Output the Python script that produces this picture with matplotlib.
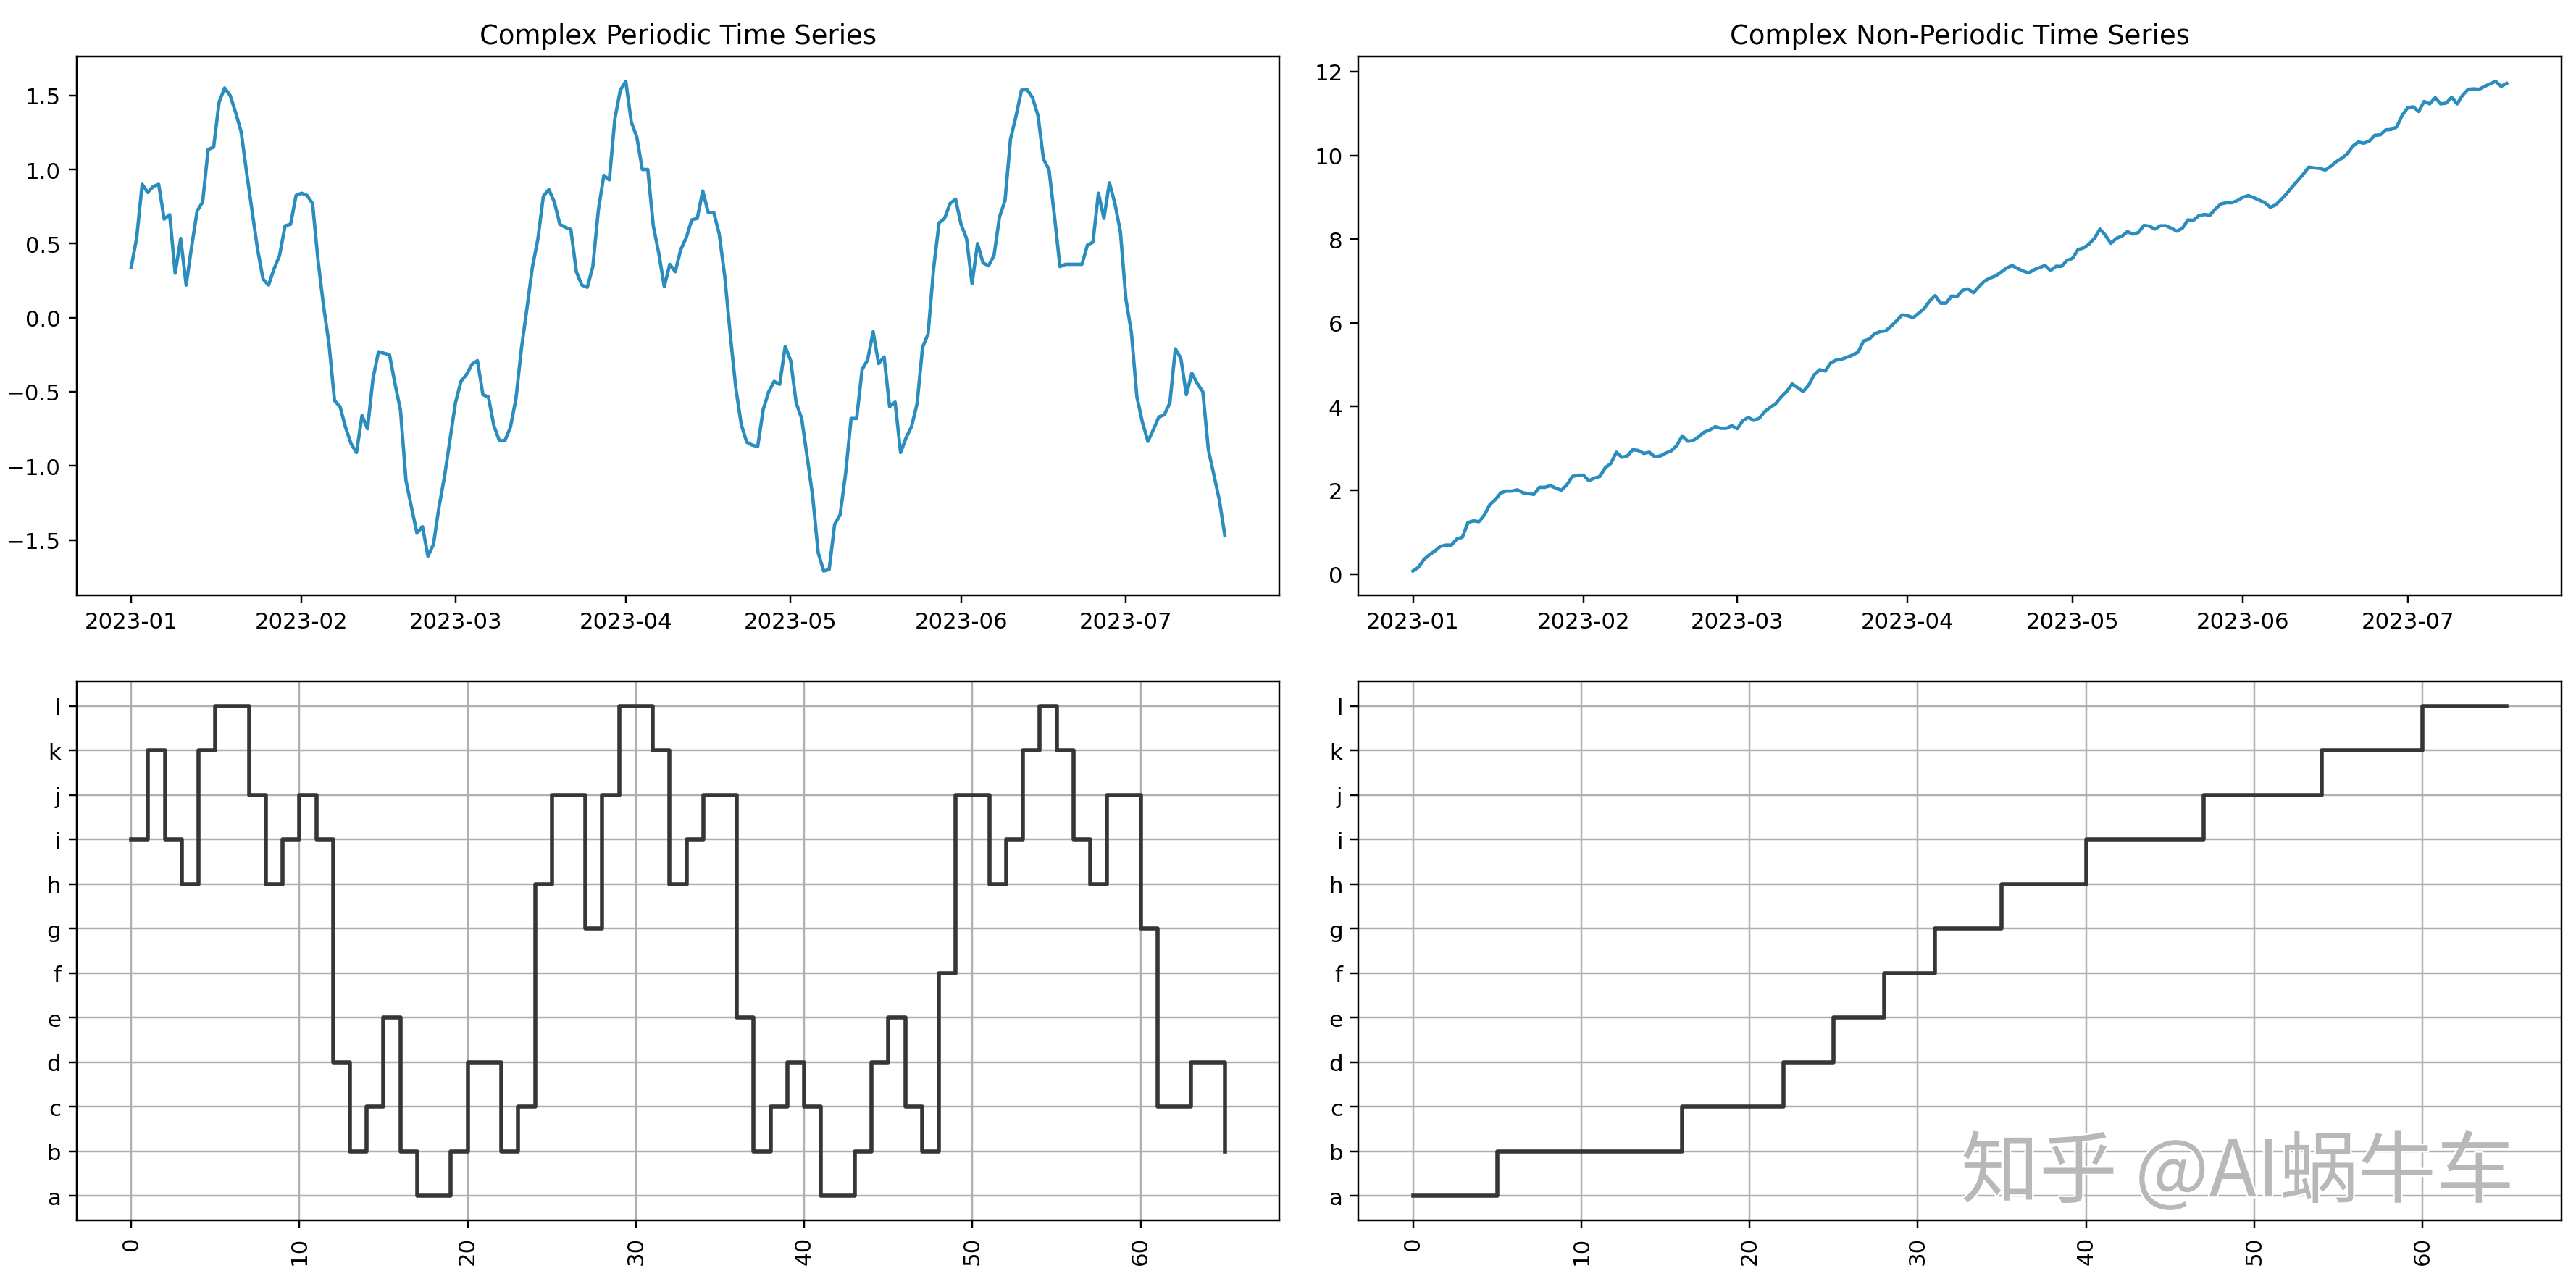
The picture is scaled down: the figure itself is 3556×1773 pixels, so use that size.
import numpy as np
import pandas as pd
import matplotlib
matplotlib.use('Agg')
import matplotlib.pyplot as plt
import matplotlib.patheffects as pe

dates = pd.date_range('2023-01-01', periods=200, freq='D')

periodic = [
    0.34, 0.54, 0.90, 0.845, 0.885, 0.90, 0.665, 0.695, 0.30, 0.535,
    0.22, 0.48, 0.72, 0.78, 1.135, 1.15, 1.455, 1.55, 1.50, 1.385,
    1.255, 0.98, 0.72, 0.46, 0.26, 0.22, 0.33, 0.42, 0.62, 0.63,
    0.825, 0.84, 0.825, 0.77, 0.385, 0.08, -0.18, -0.56, -0.60, -0.74,
    -0.85, -0.91, -0.66, -0.75, -0.41, -0.23, -0.24, -0.25, -0.445, -0.625,
    -1.10, -1.28, -1.455, -1.41, -1.61, -1.53, -1.28, -1.075, -0.825, -0.575,
    -0.43, -0.385, -0.315, -0.29, -0.52, -0.535, -0.73, -0.83, -0.83, -0.74,
    -0.55, -0.21, 0.06, 0.34, 0.53, 0.82, 0.865, 0.78, 0.63, 0.61,
    0.595, 0.31, 0.22, 0.205, 0.345, 0.725, 0.96, 0.93, 1.34, 1.535,
    1.595, 1.32, 1.22, 1.00, 1.00, 0.62, 0.435, 0.21, 0.36, 0.31,
    0.46, 0.54, 0.66, 0.67, 0.855, 0.71, 0.71, 0.565, 0.28, -0.11,
    -0.47, -0.72, -0.84, -0.86, -0.87, -0.62, -0.50, -0.43, -0.45, -0.195,
    -0.29, -0.575, -0.68, -0.94, -1.205, -1.585, -1.71, -1.70, -1.395, -1.33,
    -1.05, -0.68, -0.68, -0.35, -0.285, -0.095, -0.31, -0.265, -0.60, -0.57,
    -0.91, -0.81, -0.735, -0.58, -0.20, -0.11, 0.33, 0.64, 0.67, 0.77,
    0.80, 0.63, 0.535, 0.23, 0.50, 0.37, 0.35, 0.42, 0.68, 0.79,
    1.205, 1.36, 1.535, 1.54, 1.485, 1.365, 1.07, 1.00, 0.685, 0.345,
    0.36, 0.36, 0.36, 0.36, 0.49, 0.51, 0.84, 0.67, 0.91, 0.77,
    0.58, 0.125, -0.10, -0.535, -0.705, -0.835, -0.755, -0.67, -0.655, -0.575,
    -0.21, -0.275, -0.52, -0.375, -0.445, -0.50, -0.89, -1.06, -1.23, -1.47,
]

trend = [
    0.07, 0.16, 0.35, 0.46, 0.55, 0.66, 0.69, 0.69, 0.84, 0.88,
    1.23, 1.27, 1.25, 1.41, 1.66, 1.78, 1.94, 1.98, 1.98, 2.01,
    1.94, 1.92, 1.90, 2.07, 2.07, 2.11, 2.05, 2.00, 2.13, 2.33,
    2.36, 2.36, 2.23, 2.29, 2.33, 2.54, 2.64, 2.91, 2.79, 2.82,
    2.97, 2.95, 2.88, 2.91, 2.80, 2.82, 2.89, 2.94, 3.07, 3.30,
    3.17, 3.19, 3.28, 3.39, 3.44, 3.52, 3.48, 3.48, 3.54, 3.47,
    3.66, 3.74, 3.67, 3.72, 3.88, 3.98, 4.07, 4.23, 4.36, 4.54,
    4.45, 4.36, 4.51, 4.76, 4.88, 4.85, 5.04, 5.11, 5.13, 5.18,
    5.23, 5.30, 5.57, 5.61, 5.74, 5.79, 5.81, 5.92, 6.05, 6.19,
    6.17, 6.12, 6.23, 6.34, 6.52, 6.65, 6.47, 6.47, 6.64, 6.63,
    6.78, 6.81, 6.72, 6.87, 7.00, 7.07, 7.12, 7.21, 7.31, 7.37,
    7.30, 7.24, 7.19, 7.27, 7.32, 7.37, 7.25, 7.35, 7.35, 7.49,
    7.54, 7.75, 7.79, 7.88, 8.02, 8.24, 8.09, 7.90, 8.02, 8.07,
    8.18, 8.12, 8.16, 8.33, 8.31, 8.24, 8.32, 8.32, 8.26, 8.19,
    8.26, 8.46, 8.45, 8.56, 8.59, 8.57, 8.72, 8.84, 8.87, 8.87,
    8.92, 9.00, 9.04, 8.99, 8.93, 8.87, 8.76, 8.82, 8.95, 9.09,
    9.25, 9.40, 9.55, 9.72, 9.70, 9.69, 9.65, 9.74, 9.85, 9.93,
    10.04, 10.22, 10.32, 10.29, 10.34, 10.48, 10.49, 10.61, 10.62, 10.68,
    10.96, 11.14, 11.16, 11.05, 11.29, 11.23, 11.38, 11.23, 11.25, 11.39,
    11.23, 11.44, 11.58, 11.59, 11.58, 11.65, 11.71, 11.77, 11.65, 11.72,
]

alphabet = list('abcdefghijkl')
sym_periodic = list('ikihklljhi' 'jidbcebaab' 'ddbchjjgjl' 'lkhijjebcd'
                    'caabdecbfj' 'jhiklkihjj' 'gccddb')
sym_trend = list('aaaaa' 'bbbbbbbbbbb' 'cccccc' 'ddd' 'eee' 'fff' 'gggg'
                 'hhhhh' 'iiiiiii' 'jjjjjjj' 'kkkkkk' 'llllll')

line_color = '#2b8cbe'

fig, axes = plt.subplots(2, 2, figsize=(16, 7.982), dpi=222.25)
fig.subplots_adjust(left=0.0297, right=0.9943, top=0.9552, bottom=0.0496,
                    wspace=0.0655, hspace=0.1597)

axes[0, 0].plot(dates, periodic, color=line_color, linewidth=1.5)
axes[0, 0].set_title('Complex Periodic Time Series')

axes[0, 1].plot(dates, trend, color=line_color, linewidth=1.5)
axes[0, 1].set_title('Complex Non-Periodic Time Series')

for ax, sym in [(axes[1, 0], sym_periodic), (axes[1, 1], sym_trend)]:
    idx = np.arange(len(sym))
    levels = [alphabet.index(s) for s in sym]
    ax.step(idx, levels, where='post', color='#363636', linewidth=1.8)
    ax.set_yticks(range(len(alphabet)))
    ax.set_yticklabels(alphabet)
    ax.grid(True)
    ax.tick_params(axis='x', labelrotation=90)

# watermark
fig.text(0.976, 0.054, '知乎 @AI蜗牛车', ha='right', va='bottom',
         fontsize=35, color='#b8b8b8', family=['Noto Sans CJK SC', 'DejaVu Sans'],
         path_effects=[pe.withStroke(linewidth=1.5, foreground='white')])

plt.savefig('out.png', dpi=222.25)
